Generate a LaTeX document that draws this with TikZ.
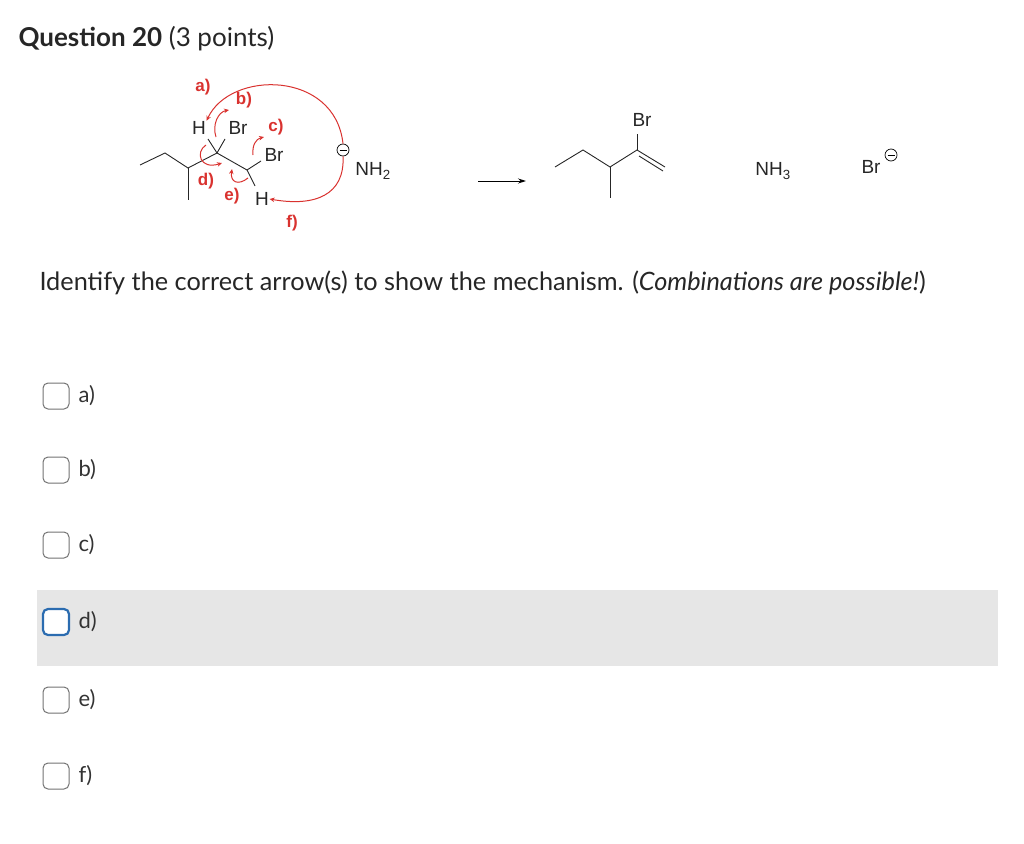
\documentclass[tikz,border=0pt]{standalone}
\usepackage{fontspec}
\setmainfont{Lato}
\newfontfamily\chem{Liberation Sans}
\usetikzlibrary{arrows.meta}
\definecolor{rd}{HTML}{D9322F}
\definecolor{hl}{HTML}{E6E6E6}
\definecolor{bl}{HTML}{2B6CB0}
\tikzset{
 bond/.style={line width=0.9pt, black!85},
 ch/.style={font=\fontsize{19}{19}\chem\selectfont, inner sep=0.5pt, text=black!85},
 rarr/.style={rd, line width=1pt, -{Stealth[length=5pt,width=4.5pt]}},
 rlab/.style={font=\fontsize{17}{17}\chem\bfseries\selectfont, text=rd, inner sep=0pt},
 cbox/.style={draw=black!55, line width=1pt, rounded corners=5pt, minimum width=26pt, minimum height=26pt, fill=white, inner sep=0},
 opt/.style={font=\fontsize{22}{22}\selectfont, anchor=west, text=black!80},
 mcirc/.style={circle, draw, line width=0.7pt, minimum size=12pt, inner sep=0}
}
\begin{document}
\begin{tikzpicture}[x=1pt,y=-1pt]
\useasboundingbox (0,0) rectangle (1024,843);
\node[anchor=base west, font=\fontsize{26}{26}\selectfont, text=black!85] (title) at (15,47) {\textbf{Question 20} (3 points)};
% reactant
\coordinate (a1) at (140,165); \coordinate (a2) at (165,153); \coordinate (a3) at (188,168);
\coordinate (me) at (188,200); \coordinate (c2) at (217,153); \coordinate (c3) at (247,170);
\coordinate (h1) at (208,139); \coordinate (b1) at (225,139);
\coordinate (b2) at (261,161); \coordinate (h2) at (255,186);
\draw[bond] (a1)--(a2)--(a3)--(c2)--(c3); \draw[bond] (a3)--(me);
\draw[bond] (c2)--(h1); \draw[bond] (c2)--(b1); \draw[bond] (c3)--(b2); \draw[bond] (c3)--(h2);
\node[ch] (H1) at (199,128) {H};
\node[ch] (Br1) at (238,128) {Br};
\node[ch] (Br2) at (274,155) {Br};
\node[ch] (H2) at (262,199) {H};
\node[mcirc] (m1) at (343,150) {};
\draw[line width=0.7pt] ([xshift=-3.5pt]m1.center)--([xshift=3.5pt]m1.center);
\node[ch] (N) at (373,171) {NH\textsubscript{2}};
% red arrows
\draw[rarr] (m1.north) .. controls (335,70) and (230,70) .. (H1.north east);
\node[rlab] (la) at (203,87) {a)};
\draw[rarr] (216,137) .. controls (212,125) and (218,112) .. (229,110);
\node[rlab] (lb) at (244,100) {b)};
\draw[rarr] (253,155) .. controls (252,145) and (256,139) .. (264,137);
\node[rlab] (lc) at (276,127) {c)};
\draw[rarr] (206,145) .. controls (195,152) and (200,170) .. (222,163);
\node[rlab] (ld) at (206,181) {d)};
\draw[rarr] (248,178) .. controls (238,186) and (230,182) .. (232,169);
\node[rlab] (le) at (232,196) {e)};
\draw[rarr] (m1.south) .. controls (345,195) and (315,207) .. (H2.east);
\node[rlab] (lf) at (292,223) {f)};
% reaction arrow
\coordinate (r1) at (478,181); \coordinate (r2) at (526,181);
\draw[line width=0.9pt, -{Stealth[length=8pt,width=5pt]}] (r1)--(r2);
% product
\coordinate (p1) at (555,167); \coordinate (p2) at (583,150); \coordinate (p3) at (610,167);
\coordinate (pm) at (610,198); \coordinate (p4) at (637,150); \coordinate (pb) at (637,134);
\coordinate (p5) at (665,167);
\draw[bond] (p1)--(p2)--(p3)--(p4)--(p5); \draw[bond] (p3)--(pm); \draw[bond] (p4)--(pb);
\draw[bond] (639,156)--(663,171);
\node[ch] (PBr) at (642,120) {Br};
\node[ch] (NH3) at (773,171) {NH\textsubscript{3}};
\node[ch] (Brm) at (871,167) {Br};
\node[mcirc] (m2) at (891,155) {};
\draw[line width=0.7pt] ([xshift=-3.5pt]m2.center)--([xshift=3.5pt]m2.center);
% question
\node[anchor=base west, font=\fontsize{25.3}{25}\selectfont, text=black!85] (q) at (36,290) {Identify the correct arrow(s) to show the mechanism. (\textit{Combinations are possible!})};
% options
\fill[hl] (37,590) rectangle (998,666);
\foreach \y/\t/\c in {396/a/black!55, 470/b/black!55, 545/c/black!55, 622/d/bl, 700/e/black!55, 776/f/black!55}{
  \node[cbox, draw=\c] (box\t) at (56,\y) {};
  \node[opt] (lab\t) at (75,\y) {\t)};
}
\draw[bl, line width=2.2pt, rounded corners=5pt] (43,609) rectangle (69,635);
\end{tikzpicture}
\end{document}
